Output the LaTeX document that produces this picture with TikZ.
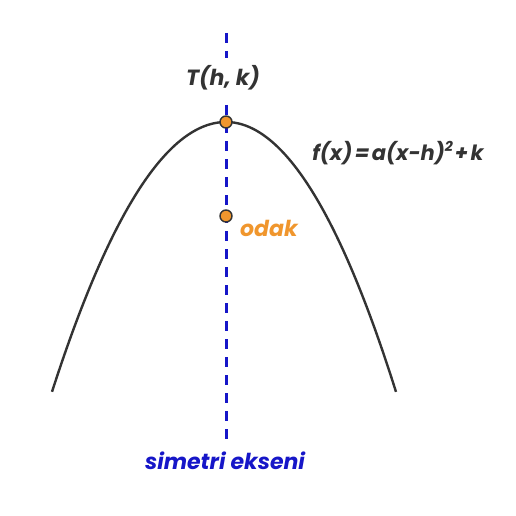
\documentclass[tikz,border=0pt]{standalone}
\usepackage{fontspec}
\setmainfont{Poppins}
\definecolor{axisblue}{RGB}{22,22,200}
\definecolor{dotorange}{RGB}{240,150,45}
\definecolor{txtgray}{RGB}{51,51,51}
\begin{document}
\begin{tikzpicture}[x=1pt,y=-1pt,
  lbl/.style={font=\fontsize{22}{26}\selectfont\bfseries\itshape, inner sep=0pt},
  dot/.style={circle, fill=dotorange, draw=txtgray, line width=1.4pt, minimum size=12pt, inner sep=0pt}]
\useasboundingbox (0,0) rectangle (516,516);
\fill[white] (0,0) rectangle (516,516);
\coordinate (axtop) at (226,33);
\coordinate (axbot) at (226,440);
\draw[axisblue, line width=3pt, dash pattern=on 10pt off 8pt] (axtop) -- (axbot);
\draw[txtgray, line width=2.4pt] plot[domain=52:226, samples=80] (\x, {122+0.008918*(\x-226)*(\x-226)});
\draw[txtgray, line width=2.4pt] plot[domain=226:396, samples=80] (\x, {122+0.009343*(\x-226)*(\x-226)});
\node[dot] (vertex) at (226,122) {};
\node[dot] (focus) at (226,216) {};
\node[lbl, text=txtgray, fill=white, inner xsep=0pt, inner ysep=8pt] (T) at (223,78) {T(h, k)};
\node[lbl, text=txtgray, font=\fontsize{21}{25}\selectfont\bfseries\itshape] (f) at (398,153) {f(x)\hspace{0.12em}=\hspace{0.12em}a(x-h)\raisebox{0.42em}{\fontsize{14}{14}\selectfont 2}\hspace{0.1em}+\hspace{0.12em}k};
\node[lbl, text=dotorange, anchor=west] (odak) at (240,228) {odak};
\node[lbl, text=axisblue] (sim) at (225,461) {simetri ekseni};
\end{tikzpicture}
\end{document}
